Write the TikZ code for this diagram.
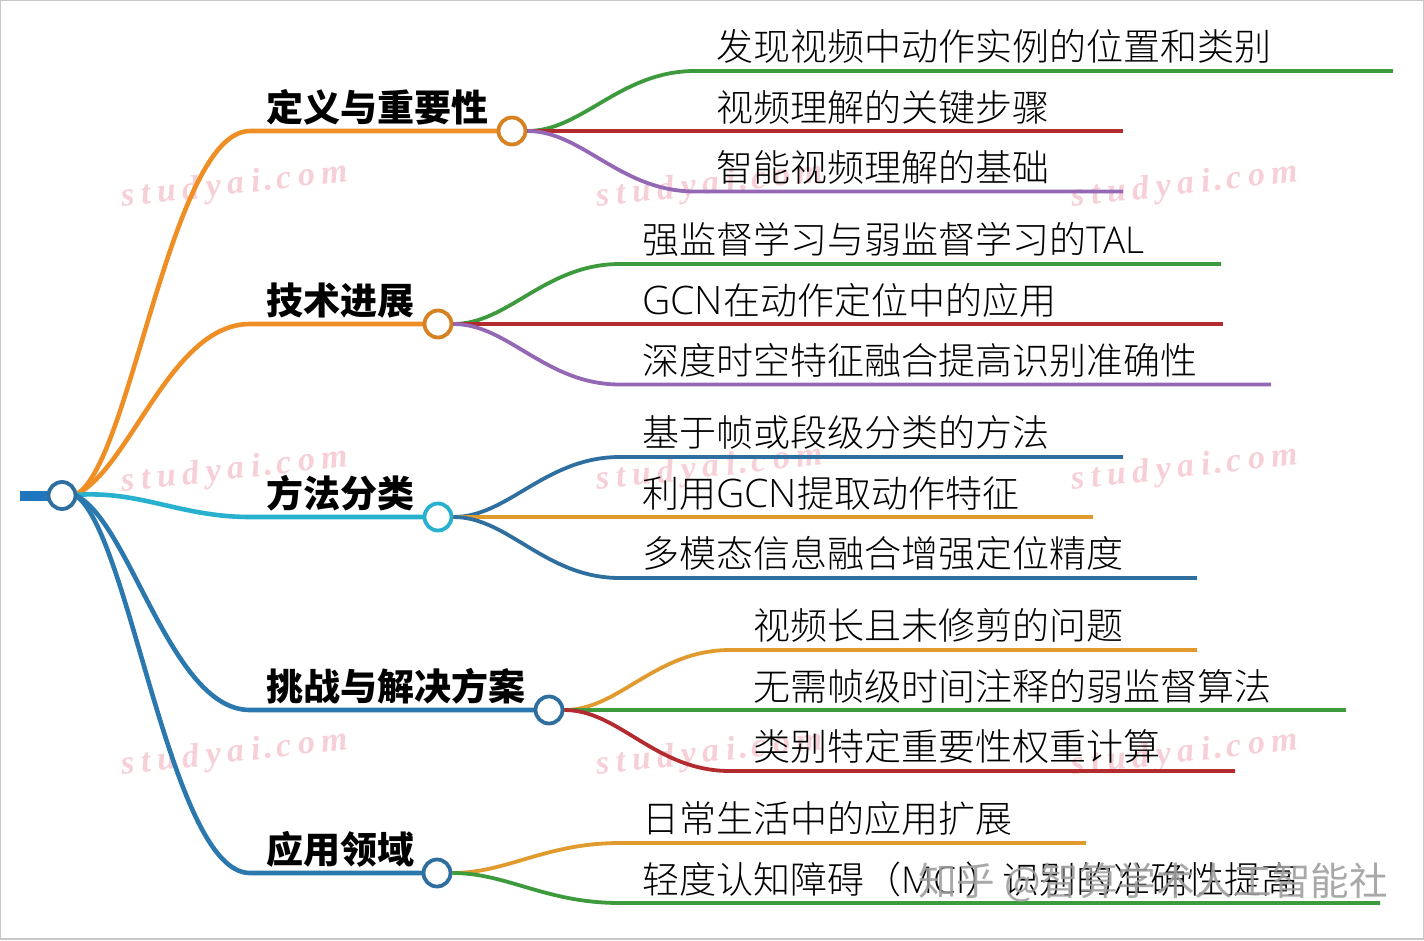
\documentclass[tikz,border=0pt]{standalone}
\usepackage{fontspec}
\setmainfont{Noto Sans CJK SC}[UprightFont=* Light,BoldFont=* Black]
\newfontfamily\wmfont{Liberation Serif}
\newfontfamily\latn{Open Sans}[UprightFont=* Light]
\newfontfamily\latnw{Open Sans}[UprightFont=* Light,Scale=1.06]
\newfontfamily\zhmark{Noto Sans CJK SC}
\definecolor{cOrange}{HTML}{EE8F26}
\definecolor{cCyan}{HTML}{27B1CF}
\definecolor{cBlue}{HTML}{2A78AE}
\definecolor{cRoot}{HTML}{1F76BE}
\definecolor{cSteel}{HTML}{2F6FA0}
\definecolor{cGreen}{HTML}{3D9A3D}
\definecolor{cRed}{HTML}{B22B2E}
\definecolor{cPurple}{HTML}{9468B5}
\definecolor{cGold}{HTML}{E09A2E}
\definecolor{cWm}{HTML}{F6D0D6}
\tikzset{
 x=1pt,y=-1pt,
 branch/.style={line width=4.6pt},
 leaf/.style={line width=3.8pt},
 hub/.style={circle,draw,line width=3.8pt,fill=white,minimum size=27pt,inner sep=0pt},
 headtxt/.style={anchor=base west,font=\bfseries\fontsize{37}{37}\selectfont,inner sep=0pt},
 leaftxt/.style={anchor=base west,font=\fontsize{37}{37}\selectfont,inner sep=0pt,text=black},
 wm/.style={rotate=6.5,text=cWm,font=\wmfont\bfseries\itshape\fontsize{34}{34}\selectfont,inner sep=0pt},
 zhwm/.style={anchor=base west,inner sep=0pt,text=black!38,opacity=.9,font=\zhmark\fontsize{38.6}{38.6}\selectfont}
}
\usetikzlibrary{calc}
\newcommand{\wmark}[3]{\node[wm] (#3) at (#1,#2) {s\kern6.6pt t\kern6.6pt u\kern6.6pt d\kern6.6pt y\kern6.6pt a\kern6.6pt i\kern4pt .\kern4pt c\kern6.6pt o\kern6.6pt m};}
\newcommand{\leafline}[6]{% colour, hub, y, x-bend, x-end, name
 \coordinate (#6) at (#5,#3);
 \draw[leaf,#1] (#2.east) .. controls ($(#2.east)+(55,0)$) and ($(#4,#3)+(-75,0)$) .. (#4,#3) -- (#6);}
\begin{document}
\begin{tikzpicture}
\useasboundingbox (0,0) rectangle (1424,940);
\draw[black!22,line width=1.5pt] (0.5,0.5) rectangle (1423.5,939);
% watermarks
\wmark{235}{186}{w1}\wmark{710}{186}{w2}\wmark{1185}{186}{w3}
\wmark{235}{471}{w4}\wmark{710}{469}{w5}\wmark{1185}{469}{w6}
\wmark{235}{754}{w7}\wmark{710}{754}{w8}\wmark{1185}{754}{w9}
% root
\coordinate (rootstart) at (20,496);
\coordinate (c1) at (512,131);
\coordinate (c2) at (438,324);
\coordinate (c3) at (438,517);
\coordinate (c4) at (549,710);
\coordinate (c5) at (437,873);
\coordinate (rt) at (75,495);
\draw[line width=10pt,cRoot] (rootstart) -- (50,496);
% main branches
\draw[branch,cOrange] (rt) .. controls (130,470) and (170,131) .. (250,131) -- (c1);
\draw[branch,cOrange] (rt) .. controls (130,470) and (170,324) .. (250,324) -- (c2);
\draw[branch,cCyan] (rt) .. controls (140,490) and (180,517) .. (250,517) -- (c3);
\draw[branch,cBlue] (rt) .. controls (130,520) and (170,710) .. (250,710) -- (c4);
\draw[branch,cBlue] (rt) .. controls (130,530) and (170,873) .. (250,873) -- (c5);
% hubs
\node[hub,draw=cSteel] (n0) at (62,495.5) {};
\node[hub,draw=cOrange!90!black] (n1) at (512,131) {};
\node[hub,draw=cOrange!90!black] (n2) at (438,324) {};
\node[hub,draw=cCyan] (n3) at (438,517) {};
\node[hub,draw=cSteel] (n4) at (549,710) {};
\node[hub,draw=cSteel] (n5) at (437,873) {};
% leaves
\leafline{cGreen}{n1}{71}{695}{1393}{e11}
\leafline{cRed}{n1}{131}{695}{1123}{e12}
\leafline{cPurple}{n1}{191.5}{695}{1123}{e13}
\leafline{cGreen}{n2}{264}{620}{1221}{e21}
\leafline{cRed}{n2}{324}{620}{1223}{e22}
\leafline{cPurple}{n2}{384.5}{620}{1271}{e23}
\leafline{cSteel}{n3}{457}{620}{1123}{e31}
\leafline{cGold}{n3}{517}{620}{1093}{e32}
\leafline{cSteel}{n3}{578}{620}{1197}{e33}
\leafline{cGold}{n4}{650}{730}{1197}{e41}
\leafline{cGreen}{n4}{710}{730}{1346}{e42}
\leafline{cRed}{n4}{771}{730}{1235}{e43}
\leafline{cGold}{n5}{843}{620}{1086}{e51}
\leafline{cGreen}{n5}{903}{620}{1380}{e52}
% head labels
\node[headtxt] (h1) at (266,121) {定义与重要性};
\node[headtxt] (h2) at (266,314) {技术进展};
\node[headtxt] (h3) at (266,507) {方法分类};
\node[headtxt] (h4) at (266,700) {挑战与解决方案};
\node[headtxt] (h5) at (266,863) {应用领域};
% leaf labels
\node[leaftxt] (t11) at (716,60) {发现视频中动作实例的位置和类别};
\node[leaftxt] (t12) at (716,121) {视频理解的关键步骤};
\node[leaftxt] (t13) at (716,181) {智能视频理解的基础};
\node[leaftxt] (t21) at (642,253) {强监督学习与弱监督学习的{\latn TAL}};
\node[leaftxt] (t22) at (642,314) {{\latnw GCN}在动作定位中的应用};
\node[leaftxt] (t23) at (642,374) {深度时空特征融合提高识别准确性};
\node[leaftxt] (t31) at (642,446) {基于帧或段级分类的方法};
\node[leaftxt] (t32) at (642,507) {利用{\latnw GCN}提取动作特征};
\node[leaftxt] (t33) at (642,567) {多模态信息融合增强定位精度};
\node[leaftxt] (t41) at (753,639) {视频长且未修剪的问题};
\node[leaftxt] (t42) at (753,700) {无需帧级时间注释的弱监督算法};
\node[leaftxt] (t43) at (753,760) {类别特定重要性权重计算};
\node[leaftxt] (t51) at (642,832) {日常生活中的应用扩展};
\node[leaftxt] (t52) at (642,893) {轻度认知障碍（{\latn MCI}）识别的准确性提高};
\node[zhwm] (zh) at (918,895) {知乎 @智算学术人工智能社};
\end{tikzpicture}
\end{document}
